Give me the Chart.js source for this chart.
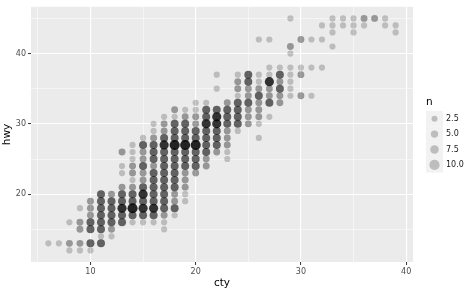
<!DOCTYPE html>
<html>
<head>
<meta charset="utf-8">
<script src="https://cdn.jsdelivr.net/npm/chart.js@4.4.1/dist/chart.umd.min.js"></script>
<style>
  html, body { margin: 0; padding: 0; background: #ffffff; }
  #wrap { width: 474px; height: 293px; }
</style>
</head>
<body>
<div id="wrap"><canvas id="chart" width="474" height="293"></canvas></div>
<script>
// hwy value of each row, the cty values found on that row, and their counts
const hwyRows = [12, 13, 14, 15, 16, 17, 18, 19, 20, 21, 22, 23, 24, 25, 26, 27, 28, 29, 30,
                 31, 32, 33, 34, 35, 36, 37, 38, 40, 41, 42, 43, 44, 45];
const ctyRows = [
  [8, 9, 10],
  [6, 7, 8, 9, 10, 11],
  [11, 12],
  [9, 10, 11, 12, 17],
  [8, 9, 10, 11, 12, 13, 14, 15, 16, 17],
  [10, 11, 12, 13, 14, 15, 16, 17, 18],
  [9, 10, 11, 12, 13, 14, 15, 16, 17, 18],
  [10, 11, 12, 13, 14, 15, 16, 17, 18, 19],
  [11, 12, 13, 14, 15, 16, 17, 18, 19],
  [13, 14, 15, 16, 17, 18, 19],
  [14, 15, 16, 17, 18, 19],
  [13, 14, 15, 16, 17, 18, 19, 20],
  [13, 14, 15, 16, 17, 18, 19, 20, 21],
  [14, 15, 16, 17, 18, 19, 20, 21, 23],
  [13, 14, 15, 16, 17, 18, 19, 20, 21, 22, 23],
  [14, 15, 16, 17, 18, 19, 20, 21, 22, 23],
  [15, 16, 17, 18, 19, 20, 21, 22, 23, 26],
  [16, 17, 18, 19, 20, 21, 22, 23, 24],
  [16, 17, 18, 19, 20, 21, 22, 23, 24, 25, 26],
  [17, 18, 19, 20, 21, 22, 23, 24, 25, 26, 27],
  [18, 19, 20, 21, 22, 23, 24, 25, 26],
  [20, 21, 23, 24, 25, 26, 27, 28],
  [24, 25, 26, 27, 28, 29, 30, 31],
  [22, 24, 25, 26, 27, 28, 29],
  [24, 25, 26, 27, 28, 29],
  [22, 24, 25, 26, 27, 28, 29, 30],
  [27, 28, 29, 30, 31, 32],
  [29],
  [29, 33],
  [26, 27, 30, 31, 32],
  [33, 35, 39],
  [32, 33, 34, 35, 36, 38, 39],
  [29, 33, 34, 35, 36, 37, 38]
];
const nRows = [
  [1, 1, 1],
  [1, 1, 2, 2, 4, 4],
  [1, 1],
  [2, 4, 4, 2, 1],
  [1, 2, 4, 4, 4, 4, 1, 1, 1, 1],
  [2, 4, 4, 4, 4, 4, 4, 2, 1],
  [1, 2, 4, 4, 7, 10, 7, 7, 4, 4],
  [2, 4, 4, 4, 4, 4, 4, 4, 2, 1],
  [4, 2, 4, 4, 7, 4, 4, 2, 1],
  [2, 2, 4, 4, 4, 4, 2],
  [1, 2, 4, 4, 4, 2],
  [1, 2, 2, 4, 4, 4, 2, 2],
  [1, 2, 4, 2, 4, 4, 4, 4, 2],
  [1, 2, 4, 4, 4, 4, 4, 2, 1],
  [2, 1, 2, 4, 4, 4, 4, 4, 4, 2, 1],
  [1, 4, 4, 7, 10, 10, 10, 4, 4, 2],
  [1, 2, 4, 4, 4, 4, 4, 4, 2, 1],
  [1, 2, 4, 4, 4, 4, 4, 2, 1],
  [1, 2, 4, 4, 2, 7, 7, 4, 4, 2, 1],
  [1, 1, 2, 2, 4, 7, 4, 4, 2, 2, 1],
  [2, 1, 1, 4, 4, 4, 4, 2, 2],
  [1, 1, 2, 4, 4, 2, 4, 2],
  [1, 2, 4, 2, 2, 1, 2, 1],
  [1, 2, 2, 2, 2, 4, 1],
  [2, 4, 1, 7, 2, 1],
  [1, 1, 4, 1, 1, 4, 1, 2],
  [1, 1, 1, 1, 1, 1],
  [1],
  [2, 1],
  [1, 1, 2, 1, 1],
  [1, 1, 1],
  [1, 1, 1, 1, 1, 1, 1],
  [1, 1, 1, 1, 2, 2, 1]
];
const legendValues = [2.5, 5.0, 7.5, 10.0];
const legendRadii = [3.0, 3.7, 4.3, 5.1];

const FONT = "'DejaVu Sans', sans-serif";

// flatten rows into points for the scatter
var points = [];
var counts = [];
for (let i = 0; i < hwyRows.length; i++) {
  for (let j = 0; j < ctyRows[i].length; j++) {
    points.push({x: ctyRows[i][j], y: hwyRows[i]});
    counts.push(nRows[i][j]);
  }
}

function radius(n) {
  return 2.2 + 0.9 * Math.sqrt(n);
}
function shade(n) {
  var a = Math.min(0.85, 1 - Math.pow(0.8, n));
  return 'rgba(0,0,0,' + a.toFixed(3) + ')';
}

const panelBg = {
  id: 'panelBg',
  beforeDraw(chart) {
    const a = chart.chartArea;
    const ctx = chart.ctx;
    ctx.save();
    ctx.fillStyle = '#ebebeb';
    ctx.fillRect(a.left, a.top, a.right - a.left, a.bottom - a.top);
    ctx.restore();
  }
};

const sizeLegend = {
  id: 'sizeLegend',
  afterDraw(chart) {
    const ctx = chart.ctx;
    ctx.save();
    ctx.fillStyle = '#000';
    ctx.font = '10.5px ' + FONT;
    ctx.textAlign = 'left';
    ctx.textBaseline = 'middle';
    ctx.fillText('n', 426, 102);
    const keyX = 426, keyW = 17, keyTop = 111, keyH = 15.4;
    for (let i = 0; i < legendValues.length; i++) {
      const y0 = keyTop + i * keyH;
      ctx.fillStyle = '#f2f2f2';
      ctx.fillRect(keyX, y0, keyW, keyH);
      ctx.beginPath();
      ctx.arc(keyX + keyW / 2, y0 + keyH / 2, legendRadii[i], 0, Math.PI * 2);
      ctx.fillStyle = 'rgba(0,0,0,0.22)';
      ctx.fill();
      ctx.fillStyle = '#1a1a1a';
      ctx.font = '8px ' + FONT;
      ctx.fillText(legendValues[i].toFixed(1), 446, y0 + keyH / 2);
    }
    ctx.restore();
  }
};

function gridColor(ctx) { return '#ffffff'; }
function gridWidth(ctx) { return ctx.tick && ctx.tick.value % 10 === 0 ? 1.1 : 0.5; }
function tickColor(ctx) { return ctx.tick && ctx.tick.value % 10 === 0 ? '#333333' : 'rgba(0,0,0,0)'; }

const chart = new Chart(document.getElementById('chart'), {
  type: 'scatter',
  data: {
    datasets: [{
      data: points,
      pointRadius: c => radius(counts[c.dataIndex]),
      pointHoverRadius: c => radius(counts[c.dataIndex]),
      backgroundColor: c => shade(counts[c.dataIndex]),
      borderWidth: 0,
      pointBorderWidth: 0
    }]
  },
  options: {
    responsive: false,
    animation: false,
    devicePixelRatio: 1,
    layout: { padding: { top: 5, right: 61, left: 0, bottom: 0 } },
    plugins: { legend: { display: false }, tooltip: { enabled: false } },
    scales: {
      x: {
        type: 'linear',
        min: 4.35,
        max: 40.65,
        afterFit: s => { s.height = 31; },
        border: { display: false },
        grid: { color: gridColor, lineWidth: gridWidth, tickLength: 3, tickColor: tickColor, tickWidth: 1 },
        ticks: {
          stepSize: 5, includeBounds: false, autoSkip: false, maxRotation: 0, padding: 2,
          color: '#4d4d4d', font: { family: FONT, size: 8 },
          callback: v => (v % 10 === 0 ? String(v) : '')
        },
        title: { display: true, text: 'cty', color: '#000', font: { family: FONT, size: 10.5 }, padding: { top: 0, bottom: 3 } }
      },
      y: {
        type: 'linear',
        min: 10.35,
        max: 46.65,
        afterFit: s => { s.width = 31; },
        border: { display: false },
        grid: { color: gridColor, lineWidth: gridWidth, tickLength: 3, tickColor: tickColor, tickWidth: 1 },
        ticks: {
          stepSize: 5, includeBounds: false, autoSkip: false, padding: 2,
          color: '#4d4d4d', font: { family: FONT, size: 8 },
          callback: v => (v % 10 === 0 ? String(v) : '')
        },
        title: { display: true, text: 'hwy', color: '#000', font: { family: FONT, size: 10.5 }, padding: { top: 1, bottom: 0 } }
      }
    }
  },
  plugins: [panelBg, sizeLegend]
});
</script>
</body>
</html>
